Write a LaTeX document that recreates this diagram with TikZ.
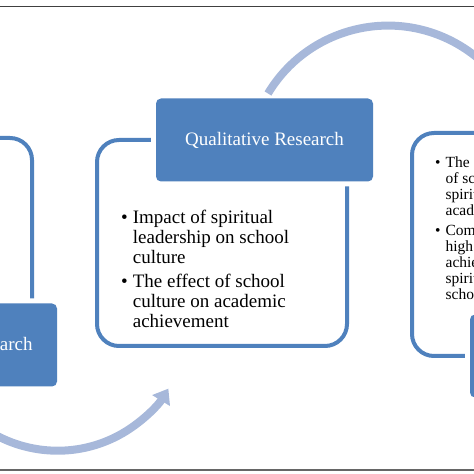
\documentclass[tikz,border=0pt]{standalone}
\usepackage{fontspec}
\setmainfont{Liberation Serif}
\usetikzlibrary{positioning, arrows.meta, calc}
\definecolor{boxblue}{HTML}{4F81BD}
\definecolor{arcblue}{HTML}{A7B8DA}

\begin{document}
\begin{tikzpicture}[x=1pt, y=1pt,
    contorno/.style={draw=boxblue, line width=4pt, rounded corners=22pt, minimum width=250pt, outer sep=0pt},
    titolo/.style={fill=boxblue, rounded corners=5pt, minimum width=217pt, minimum height=83pt, outer sep=0pt,
      text=white, font=\fontsize{19}{22}\selectfont, preaction={draw=white, line width=10pt}},
    elenco/.style={inner sep=0pt, anchor=base west},
    freccia/.style={draw=arcblue, line width=8pt}]
        \useasboundingbox (0,0) rectangle (474,474);
        \clip (0,0) rectangle (474,474);
        % riquadro a sinistra
        \node[contorno, minimum height=207pt] (quantbox) at (-93,232.5) {};
        \node[titolo, anchor=east, xshift=25pt] (quanthead) at (quantbox.south east) {Quantitative Research};
        % riquadro centrale
        \node[contorno, minimum height=206pt] (qualbox) at (222,231) {};
        \node[titolo, anchor=east, xshift=26pt] (qualhead) at (qualbox.north east) {Qualitative Research};
        \node[elenco, font=\fontsize{19}{20}\selectfont] (qualtext) at ([xshift=24pt, yshift=-84pt]qualbox.north west)
          {\begin{tabular}[t]{@{}l@{\hspace{5pt}}l@{}}
            \textbullet & Impact of spiritual\\
             & leadership on school\\
             & culture\\[4pt]
            \textbullet & The effect of school\\
             & culture on academic\\
             & achievement
          \end{tabular}};
        % riquadro a destra
        \node[contorno, minimum height=223pt] (mixbox) at (537,229.5) {};
        \node[titolo, anchor=west, xshift=58pt] (mixhead) at (mixbox.south west) {};
        \node[elenco, font=\fontsize{15.5}{16}\selectfont] (mixtext) at ([xshift=23pt, yshift=-35pt]mixbox.north west)
          {\begin{tabular}[t]{@{}l@{\hspace{5pt}}l@{}}
            \textbullet & The effect\\
             & of school culture\\
             & spiritual\\
             & academic\\[4pt]
            \textbullet & Comparison\\
             & high\\
             & achieving\\
             & spiritual\\
             & school
          \end{tabular}};
        % frecce curve
        \draw[freccia] ([xshift=3.5pt, yshift=5pt]qualhead.north) arc[start angle=149, end angle=15, radius=140];
        \draw[freccia, -{Triangle[width=20pt, length=14pt]}] ([yshift=-5pt]quanthead.south) arc[start angle=213, end angle=328.5, radius=130];
        % linee di bordo
        \draw[line width=1.5pt, black!75] (0,467.5) -- (474,467.5);
        \draw[line width=2.5pt, black!60] (0,4) -- (474,4);
\end{tikzpicture}
\end{document}
